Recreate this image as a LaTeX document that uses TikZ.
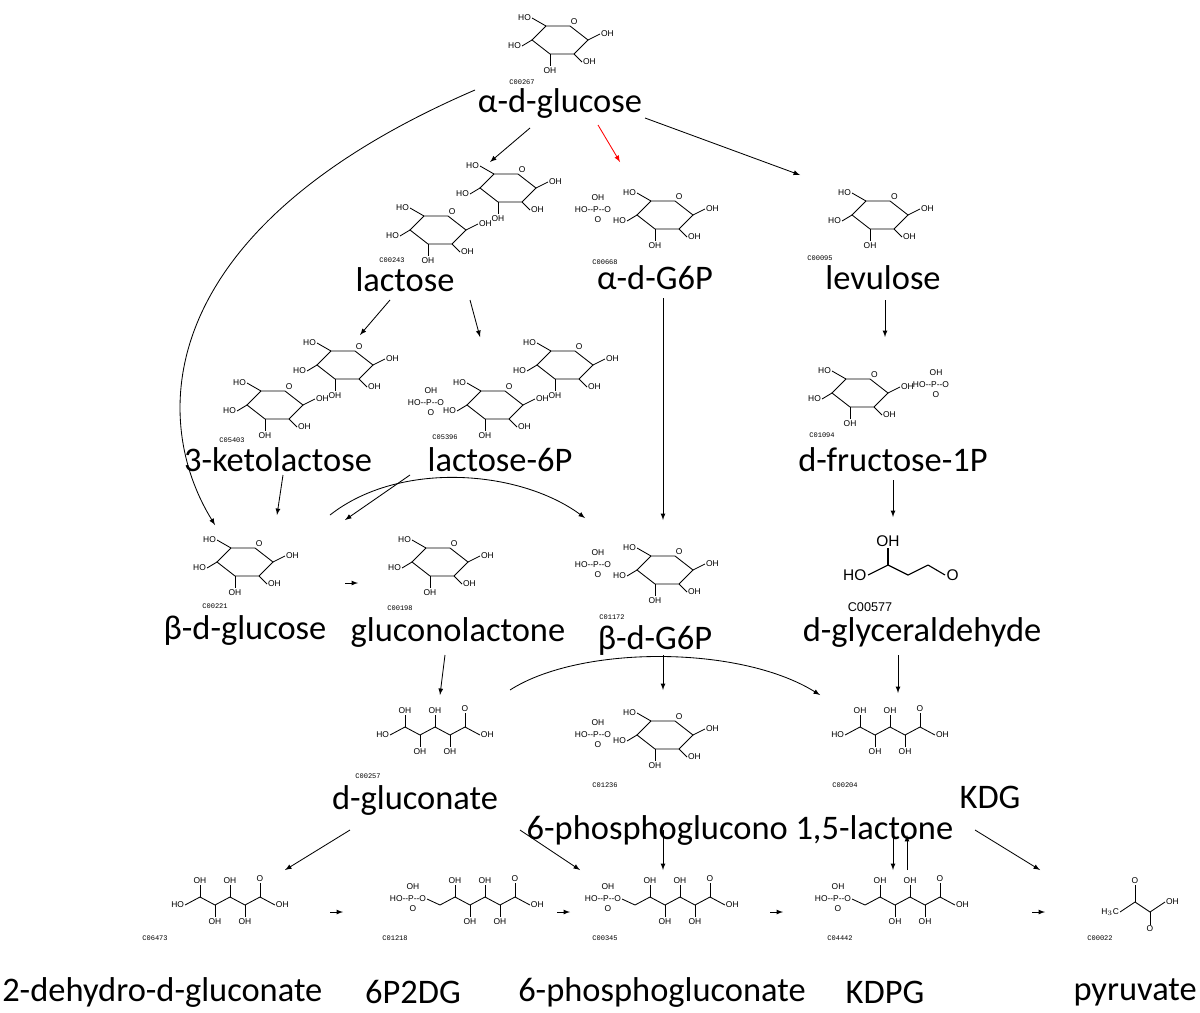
\documentclass[tikz,border=0pt]{standalone}
\usepackage{fontspec}
\setmainfont{Carlito}
\newfontfamily\chemf{Liberation Sans}
\newfontfamily\idf{Liberation Mono}
\begin{document}
\begin{tikzpicture}[x=0.025cm,y=-0.025cm,
  lab/.style={font=\fontsize{24.5}{28}\selectfont,inner sep=0pt},
  cid/.style={font=\idf\fontsize{5}{6}\selectfont,inner sep=0pt},
  oh/.style={font=\chemf\fontsize{6}{7}\selectfont,inner sep=0.5pt},
  arr/.style={-latex,line width=0.6pt},
  pyr/.pic={
    \draw[line width=0.6pt] (-28,0)--(-14,-14)--(10,-14)--(28,0)--(14,14)--(-10,14)--cycle;
    \draw[line width=0.6pt] (28,0)--(40,-6) node[oh,right]{OH};
    \draw[line width=0.6pt] (14,14)--(22,22) node[oh,right]{OH};
    \draw[line width=0.6pt] (-10,14)--(-10,26) node[oh,below]{OH};
    \draw[line width=0.6pt] (-28,0)--(-38,6) node[oh,left]{HO};
    \draw[line width=0.6pt] (-14,-14)--(-28,-22) node[oh,left]{HO};
    \node[oh] at (10,-14) [above right]{O};},
  chain/.pic={
    \draw[line width=0.6pt] (-45,0)--(-30,-8)--(-15,0)--(0,-8)--(15,0)--(30,-8)--(45,0);
    \draw[line width=0.6pt] (-30,-8)--(-30,-20) node[oh,above]{OH};
    \draw[line width=0.6pt] (0,-8)--(0,-20) node[oh,above]{OH};
    \draw[line width=0.6pt] (-15,0)--(-15,12) node[oh,below]{OH};
    \draw[line width=0.6pt] (15,0)--(15,12) node[oh,below]{OH};
    \draw[line width=0.6pt] (30,-8)--(30,-22);
    \node[oh,above] at (30,-22){O};
    \node[oh,right] at (45,0){OH};
    \node[oh,left] at (-45,0){HO};},
  pchain/.pic={
    \draw[line width=0.6pt] (-45,0)--(-30,-8)--(-15,0)--(0,-8)--(15,0)--(30,-8)--(45,0);
    \draw[line width=0.6pt] (-30,-8)--(-30,-20) node[oh,above]{OH};
    \draw[line width=0.6pt] (0,-8)--(0,-20) node[oh,above]{OH};
    \draw[line width=0.6pt] (-15,0)--(-15,12) node[oh,below]{OH};
    \draw[line width=0.6pt] (15,0)--(15,12) node[oh,below]{OH};
    \draw[line width=0.6pt] (30,-8)--(30,-22);
    \node[oh,above] at (30,-22){O};
    \node[oh,right] at (45,0){OH};
    \draw[line width=0.6pt] (-45,0)--(-58,-6);
    \node[oh,left] at (-58,-6){HO--P--O};
    \node[oh] at (-72,-18){OH};
    \node[oh] at (-72,4){O};},
  phos/.pic={
    \node[oh,left] at (0,0){HO--P--O};
    \node[oh] at (-14,-12){OH};
    \node[oh] at (-14,10){O};}
]
\useasboundingbox (0,0) rectangle (1200,1012);
% structures
\pic at (560,40){pyr}; \node[cid] at (522,82){C00267};
\pic at (438,230){pyr}; \pic at (508,188){pyr}; \node[cid] at (392,260){C00243};
\pic at (665,215){pyr}; \pic at (612,210){phos}; \node[cid] at (605,262){C00668};
\pic at (880,215){pyr}; \node[cid] at (820,258){C00095};
\pic at (275,405){pyr}; \pic at (345,365){pyr}; \node[cid] at (232,440){C05403};
\pic at (495,405){pyr}; \pic at (565,365){pyr}; \pic at (445,403){phos}; \node[cid] at (445,437){C05396};
\pic at (860,393){pyr}; \pic at (950,385){phos}; \node[cid] at (822,435){C01094};
\pic at (245,562){pyr}; \node[cid] at (215,606){C00221};
\pic at (440,562){pyr}; \node[cid] at (400,608){C00198};
\pic at (665,570){pyr}; \pic at (612,565){phos}; \node[cid] at (612,617){C01172};
\draw[line width=0.8pt] (868,575)--(888,565)--(908,575)--(928,565);
\draw[line width=0.8pt] (928,565)--(945,575);
\draw[line width=0.8pt] (888,565)--(888,548);
\node[font=\chemf\fontsize{11}{12}\selectfont,left,inner sep=1pt] at (868,575){HO};
\node[font=\chemf\fontsize{11}{12}\selectfont,above,inner sep=1pt] at (888,548){OH};
\node[font=\chemf\fontsize{11}{12}\selectfont,right,inner sep=1pt] at (945,575){O};
\node[font=\chemf\fontsize{9}{10}\selectfont,inner sep=0pt] at (870,607){C00577};
\pic at (435,735){chain}; \node[cid] at (368,776){C00257};
\pic at (665,735){pyr}; \pic at (612,735){phos}; \node[cid] at (605,785){C01236};
\pic at (890,735){chain}; \node[cid] at (845,785){C00204};
\pic at (230,905){chain}; \node[cid] at (155,938){C06473};
\pic at (485,905){pchain}; \node[cid] at (395,938){C01218};
\pic at (680,905){pchain}; \node[cid] at (605,938){C00345};
\pic at (910,905){pchain}; \node[cid] at (840,938){C04442};
\draw[line width=0.6pt] (1120,912)--(1135,902)--(1150,912)--(1165,902);
\draw[line width=0.6pt] (1135,902)--(1135,885); \draw[line width=0.6pt] (1150,912)--(1150,925);
\node[oh,left] at (1120,912){H$_3$C}; \node[oh,above] at (1135,885){O};
\node[oh,below] at (1150,925){O}; \node[oh,right] at (1165,902){OH};
\node[cid] at (1100,938){C00022};
% labels
\node[lab] (glc) at (560,103){α-d-glucose};
\node[lab] (lac) at (405,280){lactose};
\node[lab] (g6p) at (655,278){α-d-G6P};
\node[lab] (lev) at (883,278){levulose};
\node[lab] (kl) at (278,460){3-ketolactose};
\node[lab] (l6p) at (500,460){lactose-6P};
\node[lab] (f1p) at (893,460){d-fructose-1P};
\node[lab] (bglc) at (245,630){β-d-glucose};
\node[lab] (gl) at (458,632){gluconolactone};
\node[lab] (bg6p) at (655,640){β-d-G6P};
\node[lab] (gla) at (922,632){d-glyceraldehyde};
\node[lab] (gn) at (415,800){d-gluconate};
\node[lab] (pgl) at (740,830){6-phosphoglucono 1,5-lactone};
\node[lab] (kdg) at (990,797){KDG};
\node[lab,anchor=west] (dhg) at (2,992){2-dehydro-d-gluconate};
\node[lab] (p2dg) at (413,992){6P2DG};
\node[lab] (pg) at (662,992){6-phosphogluconate};
\node[lab] (kdpg) at (885,992){KDPG};
\node[lab,anchor=east] (pyr) at (1197,992){pyruvate};
% arrows
\draw[arr] (475,90) .. controls (150,230) and (150,420) .. (215,525);
\draw[arr] (530,128)--(490,162);
\draw[arr,red] (598,125)--(620,162);
\draw[arr] (645,118)--(800,175);
\draw[arr] (390,300)--(360,335);
\draw[arr] (470,300)--(480,337);
\draw[arr] (663,298)--(663,520);
\draw[arr] (885,300)--(885,337);
\draw[arr] (283,475)--(277,515);
\draw[arr] (410,475)--(345,520);
\draw[arr] (330,515) .. controls (400,460) and (520,470) .. (585,518);
\draw[arr] (893,480)--(893,517);
\draw[arr] (345,583)--(358,583);
\draw[arr] (445,655)--(440,695);
\draw[arr] (663,655)--(663,690);
\draw[arr] (510,690) .. controls (580,645) and (740,645) .. (820,695);
\draw[arr] (898,655)--(898,693);
\draw[arr] (350,830)--(285,870);
\draw[arr] (520,830)--(580,870);
\draw[arr] (663,830)--(663,870);
\draw[arr] (893,830)--(893,870);
\draw[arr] (907,870)--(907,835);
\draw[arr] (975,830)--(1040,870);
\draw[arr] (330,912)--(343,912);
\draw[arr] (557,912)--(570,912);
\draw[arr] (770,912)--(783,912);
\draw[arr] (1032,912)--(1045,912);
\end{tikzpicture}
\end{document}
